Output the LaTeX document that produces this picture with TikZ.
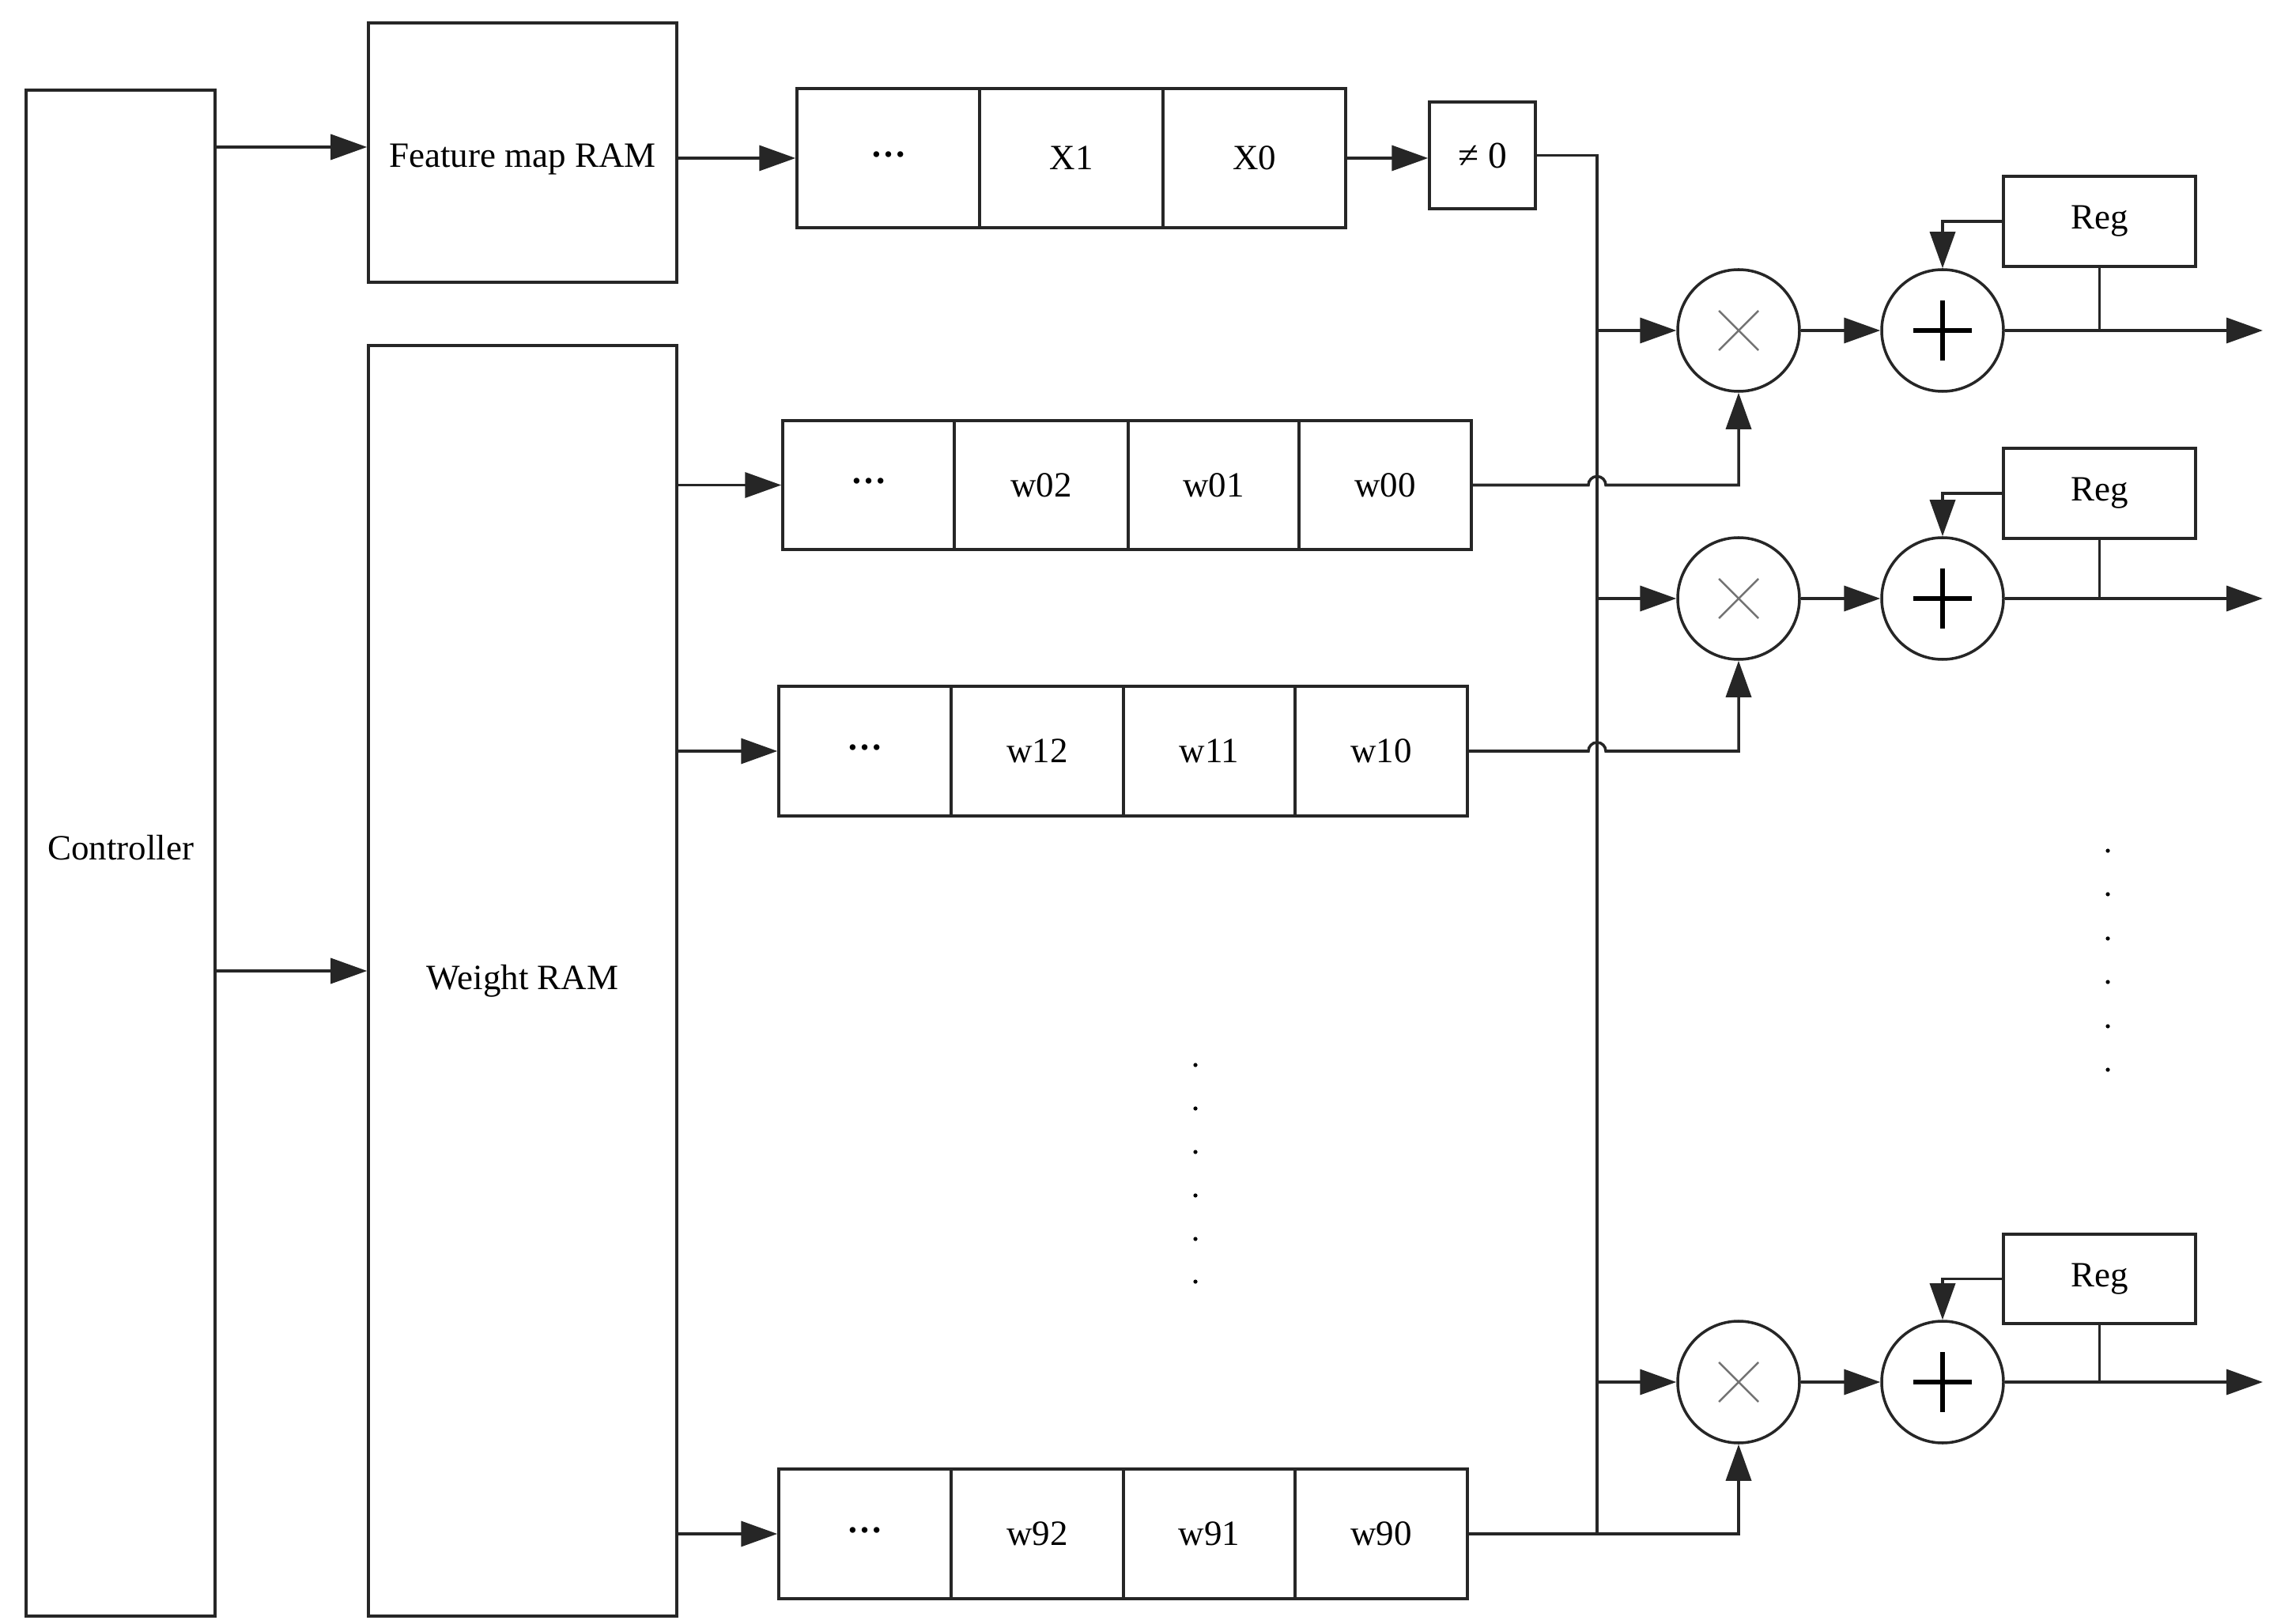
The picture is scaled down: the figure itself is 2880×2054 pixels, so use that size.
\documentclass[tikz,border=0pt]{standalone}
\usepackage{fontspec}
\setmainfont{Liberation Serif}
\usetikzlibrary{arrows.meta,fit,calc}
\begin{document}
\begin{tikzpicture}[x=0.1mm,y=-0.1mm,
  ln/.style={line width=1pt, draw=black!85},
  box/.style={ln, draw, inner sep=0pt},
  every label/.style={font=\fontsize{12.8}{15}\selectfont, inner sep=0pt, text=black},
  arr/.style={ln, -{Triangle[length=4.6mm,width=3.2mm]}},
  opc/.style={ln, draw, circle, inner sep=0pt, minimum size=15.4mm},
  dts/.style={font=\fontsize{12.8}{15}\selectfont\bfseries, inner sep=0pt, yshift=0.5mm},
  mulx/.style={draw=black!55, line width=0.7pt},
  addp/.style={draw=black, line width=1.7pt}
]
\useasboundingbox (0,0) rectangle (2880,2054);

% main blocks
\node[box, fit={(33,114)(272,2044)}, label={[yshift=0.7mm]center:Controller}] (ctrl) {};
\node[box, fit={(466,29)(856,357)}, label={[yshift=-0.8mm]center:Feature map RAM}] (fm) {};
\node[box, fit={(466,437)(856,2044)}, label=center:Weight RAM] (wram) {};

% feature register
\node[box, fit={(1008,112)(1239,288)}] (x2) {};
\node[dts] at (x2) {…};
\node[box, fit={(1239,112)(1471,288)}, label=center:X1] (x1) {};
\node[box, fit={(1471,112)(1702,288)}, label=center:X0] (x0) {};
\node[box, fit={(1808,129)(1942,264)}, label={[font=\fontsize{13.5}{15}\selectfont]center:≠ 0}] (nz) {};

% weight registers
\node[box, fit={(990,532)(1207,695)}] (r0a) {};
\node[dts] at (r0a) {…};
\node[box, fit={(1207,532)(1427,695)}, label=center:w02] (r0b) {};
\node[box, fit={(1427,532)(1643,695)}, label=center:w01] (r0c) {};
\node[box, fit={(1643,532)(1861,695)}, label=center:w00] (r0d) {};

\node[box, fit={(985,868)(1203,1032)}] (r1a) {};
\node[dts] at (r1a) {…};
\node[box, fit={(1203,868)(1421,1032)}, label=center:w12] (r1b) {};
\node[box, fit={(1421,868)(1638,1032)}, label=center:w11] (r1c) {};
\node[box, fit={(1638,868)(1856,1032)}, label=center:w10] (r1d) {};

\node[box, fit={(985,1858)(1203,2022)}] (r9a) {};
\node[dts] at (r9a) {…};
\node[box, fit={(1203,1858)(1421,2022)}, label=center:w92] (r9b) {};
\node[box, fit={(1421,1858)(1638,2022)}, label=center:w91] (r9c) {};
\node[box, fit={(1638,1858)(1856,2022)}, label=center:w90] (r9d) {};

% multipliers and adders
\node[opc] (m1) at (2199,418) {};
\node[opc] (m2) at (2199,757) {};
\node[opc] (m3) at (2199,1748) {};
\node[opc] (a1) at (2457,418) {};
\node[opc] (a2) at (2457,757) {};
\node[opc] (a3) at (2457,1748) {};
\foreach \m in {m1,m2,m3}{
  \draw[mulx] ($(\m)+(-25,-25)$) -- ($(\m)+(25,25)$);
  \draw[mulx] ($(\m)+(-25,25)$) -- ($(\m)+(25,-25)$);
}
\foreach \a in {a1,a2,a3}{
  \draw[addp] ($(\a)+(-37,0)$) -- ($(\a)+(37,0)$);
  \draw[addp] ($(\a)+(0,-38)$) -- ($(\a)+(0,38)$);
}

% registers
\node[box, fit={(2534,223)(2777,337)}, label=center:Reg] (g1) {};
\node[box, fit={(2534,567)(2777,681)}, label=center:Reg] (g2) {};
\node[box, fit={(2534,1561)(2777,1674)}, label=center:Reg] (g3) {};

% output coordinates
\coordinate (o1) at (2862,418);
\coordinate (o2) at (2862,757);
\coordinate (o3) at (2862,1748);
\coordinate (bb) at (2020,1940);

% controller / RAM connections
\draw[arr] (ctrl.east |- 0,186) -- (fm.west |- 0,186);
\draw[arr] (ctrl.east |- 0,1228) -- (wram.west |- 0,1228);
\draw[arr] (fm.east |- x2) -- (x2.west);
\draw[arr] (x0.east) -- (nz.west |- x0.east);
\draw[arr] (wram.east |- r0a) -- (r0a.west);
\draw[arr] (wram.east |- r1a) -- (r1a.west);
\draw[arr] (wram.east |- r9a) -- (r9a.west);

% bus from non-zero detector
\draw[ln] (nz.east) -| (bb);
\draw[arr] (m1 -| bb) -- (m1.west);
\draw[arr] (m2 -| bb) -- (m2.west);
\draw[arr] (m3 -| bb) -- (m3.west);

% weights to multipliers (with line jumps)
\draw[arr] (r0d.east) -- ($(bb |- r0d.east)+(-11,0)$) arc[start angle=180,end angle=360,radius=11] -| (m1.south);
\draw[arr] (r1d.east) -- ($(bb |- r1d.east)+(-11,0)$) arc[start angle=180,end angle=360,radius=11] -| (m2.south);
\draw[arr] (r9d.east) -| (m3.south);

% multiplier -> adder -> output, register feedback
\foreach \i in {1,2,3}{
  \draw[arr] (m\i.east) -- (a\i.west);
  \draw[arr] (a\i.east) -- (o\i);
  \draw[ln] (g\i.south) -- (g\i.south |- a\i.east);
  \draw[arr] (g\i.west) -| (a\i.north);
}

% vertical ellipsis dots
\foreach \y in {1347,1402,1457,1512,1567,1621}
  \fill[black] (1512,\y) circle[radius=2.6];
\foreach \y in {1076,1131,1187,1242,1298,1353}
  \fill[black] (2666,\y) circle[radius=2.6];
\end{tikzpicture}
\end{document}
